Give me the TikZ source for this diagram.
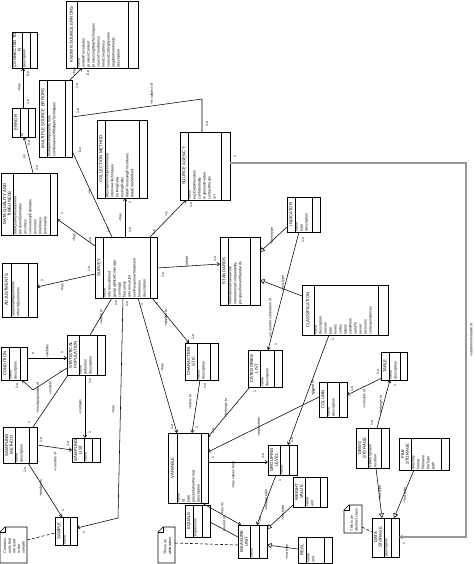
\documentclass[tikz,border=0pt]{standalone}
\usepackage{fontspec}
\setmainfont{Liberation Sans}
\usetikzlibrary{calc,arrows.meta}
\tikzset{
 clsbox/.style={draw, line width=0.65pt, inner sep=0pt, outer sep=0pt, anchor=north west},
 ttl/.style={rotate=90, font=\fontsize{4.3}{4.8}\selectfont, align=center, inner sep=0pt},
 attr/.style={rotate=90, font=\fontsize{3.6}{5}\selectfont, align=left, inner sep=0.6pt, anchor=north west},
 lbl/.style={rotate=90, font=\fontsize{3.5}{4}\selectfont, inner sep=0.3pt},
 notetxt/.style={rotate=90, font=\fontsize{3.6}{4.6}\selectfont, align=left, inner sep=0pt},
 assoc/.style={line width=0.55pt},
 nav/.style={assoc, -{Straight Barb[length=2.5pt,width=3.5pt]}},
 gen/.style={assoc, -{Triangle[open,length=4.5pt,width=5pt]}},
 notelink/.style={line width=0.55pt, dash pattern=on 3pt off 2pt},
}
\newcommand\umlcls[9]{%
 \node[clsbox, minimum width={(#4-#2)*1pt}, minimum height={(#5-#3)*1pt}] (#1) at (#2,#3) {};
 \draw[line width=0.5pt] ($(#1.north west)+(#6,0)$) -- ($(#1.south west)+(#6,0)$);
 \draw[line width=0.5pt] ($(#1.north east)+(-#7,0)$) -- ($(#1.south east)+(-#7,0)$);
 \node[ttl] (#1-t) at ($(#1.west)+({#6/2},0)$) {#8};
 \node[attr] (#1-a) at ($(#1.south west)+(#6,0)$) {#9};
}
\newcommand\umlnote[6]{%
 \node[inner sep=0pt, outer sep=0pt, anchor=north west, minimum width={(#4-#2)*1pt}, minimum height={(#5-#3)*1pt}] (#1) at (#2,#3) {};
 \draw[line width=0.55pt] ($(#1.north west)+(0,5)$) -- ($(#1.north west)+(5,0)$) -- (#1.north east) -- (#1.south east) -- (#1.south west) -- cycle;
 \draw[line width=0.45pt] ($(#1.north west)+(0,5)$) -- ($(#1.north west)+(5,5)$) -- ($(#1.north west)+(5,0)$);
 \node[notetxt] (#1-t) at ($(#1.center)+(1,1)$) {#6};
}
\begin{document}
\begin{tikzpicture}[x=1pt,y=-1pt]
\fill[white] (0,0) rectangle (474,564);
\useasboundingbox (0,0) rectangle (474,564);

% classes
\umlcls{kse}{66}{1}{138}{68}{11}{10}{KNOWN SOURCE ERRORS}{name\\unitedProcedures\\processContent\\processingStepTechniques\\sourceConsistency\\timeConsistency\\sourceCodingSystem\\eligibleFormFields\\description}
\umlcls{conn}{12}{32}{37}{68}{10}{7}{CONNECTED TO\\N}{description}
\umlcls{err}{12}{108}{35}{137}{8}{7}{ERROR}{N}
\umlcls{mse}{39}{80}{72}{157}{8}{7}{MULTIPLE SOURCE ERRORS}{multipleComponentErrors\\combinationOfMultipleTechniques}
\umlcls{coll}{97}{120}{147}{198}{8}{8}{COLLECTION METHOD}{descriptionOfQuestionnaire\\interviewTechniques\\trainingData\\testingRules\\dataProcessingProcedures\\dataEntryMethod}
\umlcls{sa}{180}{132}{230}{200}{8}{9}{SOURCE AGENCY}{name\\keyDataProviders\\confidentiality\\responseBurden\\contactPerson\\url}
\umlcls{dq}{1}{173}{57}{235}{12}{7}{DATA QUALITY AND\\TIMELINESS}{dataQualityAssessment\\precisionEstimates\\accuracy\\consistencyEstimates\\revisions\\timeliness\\punctuality}
\umlcls{adj}{2}{263}{37}{317}{9}{9}{ADJUSTMENTS}{seasonalAdjustments\\otherAdjustments}
\umlcls{survey}{95}{237}{157}{298}{8}{7}{SURVEY}{name\\referencePeriod\\geographicalCoverage\\coverage\\frequency\\referenceUnit\\nonResponseTreatment\\timeliness\\description}
\umlcls{std}{220}{237}{260}{305}{8}{10}{STANDARDS}{internationalFramework\\internationalComparability\\progressTowardStandards}
\umlcls{ind}{287}{197}{320}{232}{8}{8}{INDICATOR}{name\\type\\description}
\umlcls{cls}{302}{285}{388}{335}{12}{10}{CLASSIFICATION}{name\\description\\version\\type\\levels\\codes\\labels\\validFrom\\validTo\\owner\\revisions\\correspondences}
\umlcls{char}{185}{343}{218}{380}{12}{8}{CHARACTERI\\STIC}{name\\description}
\umlcls{catl}{248}{350}{282}{387}{12}{8}{CATEGORIES\\LIST}{value\\description}
\umlcls{column}{319}{382}{347}{417}{8}{8}{COLUMN}{name\\description}
\umlcls{table}{381}{352}{407}{380}{8}{7}{TABLE}{name\\description}
\umlcls{stp}{67}{335}{105}{375}{12}{8}{STATISTICAL\\POPULATION}{name\\definition\\description}
\umlcls{cond}{1}{347}{27}{380}{8}{7}{CONDITION}{name\\description}
\umlcls{smeth}{3}{427}{37}{463}{12}{8}{SAMPLING\\METHOD}{name\\description}
\umlcls{slist}{72}{438}{100}{462}{12}{8}{SAMPLING\\LIST}{name}
\umlcls{sample}{55}{517}{77}{545}{8}{7}{SAMPLE}{name}
\umlcls{var}{168}{433}{208}{503}{9}{7}{VARIABLE}{name\\id\\type\\presentationFormat\\description}
\umlcls{grp}{268}{445}{297}{475}{12}{8}{GROUPING\\LEVEL}{name}
\umlcls{mu}{238}{525}{267}{558}{12}{8}{MEASURE\\UNIT}{name}
\umlcls{eq}{185}{505}{210}{537}{8}{8}{EQUALS}{expression}
\umlcls{val}{293}{477}{327}{507}{12}{7}{WEIGHT\\VALUE}{value\\unit}
\umlcls{real}{298}{537}{332}{563}{8}{8}{REAL}{value\\unit}
\umlcls{dbms}{356}{428}{389}{468}{12}{8}{DBMS\\STORAGE}{DBMSSystem\\location}
\umlcls{file}{399}{438}{449}{470}{12}{8}{FILE\\STORAGE}{directory\\format\\filename\\fileType\\path}
\umlcls{ds}{372}{518}{399}{557}{12}{8}{DATA\\STORAGE}{description}

% notes
\umlnote{note1}{0}{527}{27}{563}{Contains\\units that\\are used\\in the\\sample}
\umlnote{note2}{158}{527}{175}{563}{This is an\\abstraction}
\umlnote{note3}{344}{505}{362}{533}{This is an\\abstract class}

% connectors
\draw[nav] ($(err.north west)+(11,0)$) -- ($(conn.north west)+(11,36)$);
\draw[nav] ($(dq.north west)+(32,0)$) -- ($(err.north west)+(12,29)$);
\draw[nav] ($(mse.north west)+(31,0)$) -- ($(kse.north west)+(16,67)$);
\draw[assoc] ($(mse.north west)+(33,37)$) -- ($(sa.north west)+(22,-33)$) -- ($(sa.north west)+(22,0)$);
\draw[assoc] ($(mse.north west)+(34,73)$) -- ($(survey.north west)+(17,0)$);
\draw[nav] ($(survey.north west)+(0,9)$) -- ($(dq.north west)+(56,46)$);
\draw[nav] ($(survey.north west)+(30,0)$) -- ($(coll.north west)+(28,78)$);
\draw[nav] ($(survey.north west)+(55,0)$) -- ($(sa.north west)+(6,68)$);
\coordinate (gc1) at (466,163);
\coordinate (gc2) at (466,537);
\draw[nav, draw=black!40, line width=1.1pt] ($(sa.north west)+(50,31)$) -- (gc1) -- (gc2) -- ($(ds.north west)+(27,19)$);
\draw[nav] ($(survey.north west)+(0,37)$) -- ($(adj.north west)+(35,24)$);
\draw[nav] ($(survey.north west)+(62,31)$) -- ($(std.north west)+(0,27)$);
\draw[gen] ($(ind.north west)+(1,29)$) -- ($(std.north west)+(40,15)$);
\draw[gen] ($(cls.north west)+(0,11)$) -- ($(std.north west)+(40,43)$);
\draw[nav] ($(ind.north west)+(12,35)$) -- ($(catl.north west)+(20,0)$);
\draw[nav] ($(survey.north west)+(57,61)$) -- ($(char.north west)+(4,0)$);
\draw[nav] ($(char.north west)+(15,37)$) -- ($(var.north west)+(24,0)$);
\draw[nav] ($(survey.north west)+(43,61)$) -- ($(var.north west)+(9,0)$);
\draw[nav] ($(catl.north west)+(2,37)$) -- ($(var.north west)+(40,4)$);
\draw[nav] ($(cls.north west)+(27,50)$) -- ($(grp.north west)+(20,0)$);
\draw[nav] ($(column.north west)+(0,15)$) -- ($(var.north west)+(40,19)$);
\draw[nav] ($(var.north west)+(40,29)$) -- ($(grp.north west)+(0,17)$);
\draw[nav] ($(grp.north west)+(8,30)$) -- ($(mu.north west)+(19,0)$);
\draw[gen] ($(val.north west)+(0,28)$) -- ($(mu.north west)+(29,4)$);
\draw[gen] ($(real.north west)+(0,12)$) -- ($(mu.north west)+(29,20)$);
\draw[nav] ($(var.north west)+(34,70)$) -- ($(mu.north west)+(3,0)$);
\draw[assoc] ($(eq.north west)+(25,17)$) -- ($(mu.north west)+(0,12)$);
\draw[notelink] ($(note2.north west)+(17,16)$) -- ($(mu.north west)+(0,20)$);
\draw[assoc] ($(stp.north west)+(23,0)$) -- ($(survey.north west)+(17,61)$);
\draw[nav] ($(cond.north west)+(26,11)$) -- ($(stp.north west)+(0,23)$);
\coordinate (sc1) at (33,390);
\draw[nav] ($(stp.north west)+(0,33)$) -- (sc1) -- ($(cond.north west)+(21,33)$);
\draw[assoc] ($(smeth.north west)+(30,0)$) -- ($(stp.north west)+(1,40)$);
\draw[nav] ($(stp.north west)+(18,40)$) -- ($(slist.north west)+(13,0)$);
\draw[nav] ($(smeth.north west)+(34,18)$) -- ($(slist.north west)+(0,12)$);
\draw[nav] ($(smeth.north west)+(25,36)$) -- ($(sample.north west)+(7,0)$);
\coordinate (sc2) at (118,518);
\draw[nav] ($(survey.north west)+(28,61)$) -- (sc2) -- ($(sample.north west)+(22,11)$);
\draw[notelink] ($(note1.north west)+(27,13)$) -- ($(sample.north west)+(0,16)$);
\draw[nav] ($(table.north west)+(1,26)$) -- ($(column.north west)+(28,13)$);
\draw[nav] ($(dbms.north west)+(21,0)$) -- ($(table.north west)+(9,28)$);
\draw[gen] ($(dbms.north west)+(20,40)$) -- ($(ds.north west)+(10,0)$);
\draw[gen] ($(file.north west)+(15,32)$) -- ($(ds.north west)+(22,0)$);
\draw[notelink] ($(note3.north west)+(18,22)$) -- ($(ds.north west)+(0,14)$);

% labels
\node[lbl] (L1) at (19,88) {+has};
\node[lbl] (L2) at (28,102) {1..n};
\node[lbl] (L3) at (28,74) {0..n};
\node[lbl] (L4) at (24,157) {+is};
\node[lbl] (L5) at (37,168) {1..n};
\node[lbl] (L6) at (29,143) {0..n};
\node[lbl] (L7) at (74,72) {+has};
\node[lbl] (L8) at (88,73) {0..n};
\node[lbl] (L9) at (77,86) {1..n};
\node[lbl] (L10) at (78,111) {1..n};
\node[lbl] (L11) at (152,94) {+is subject of};
\node[lbl] (L12) at (207,124) {1..n};
\node[lbl] (L13) at (80,150) {0..n};
\node[lbl] (L14) at (89,192) {+is};
\node[lbl] (L15) at (108,230) {1..n};
\node[lbl] (L16) at (62,214) {1};
\node[lbl] (L17) at (74,238) {+has};
\node[lbl] (L18) at (90,240) {1..n};
\node[lbl] (L19) at (120,218) {+has};
\node[lbl] (L20) at (130,230) {1..n};
\node[lbl] (L21) at (130,203) {1};
\node[lbl] (L22) at (166,214) {+is};
\node[lbl] (L23) at (191,205) {1..n};
\node[lbl] (L24) at (154,232) {1..n};
\node[lbl] (L25) at (235,157) {1};
\node[lbl] (L26) at (404,544) {1};
\node[lbl] (L27) at (471,340) {+statements made at};
\node[lbl] (L28) at (42,281) {1};
\node[lbl] (L29) at (62,288) {+has};
\node[lbl] (L30) at (89,269) {1..n};
\node[lbl] (L31) at (187,262) {+adopt};
\node[lbl] (L32) at (163,275) {1..n};
\node[lbl] (L33) at (215,259) {1..n};
\node[lbl] (L34) at (272,236) {+uses type};
\node[lbl] (L35) at (283,283) {+is a type};
\node[lbl] (L36) at (303,240) {1..n};
\node[lbl] (L37) at (270,318) {+is used in calculation of};
\node[lbl] (L38) at (276,345) {1};
\node[lbl] (L39) at (166,318) {+applies to};
\node[lbl] (L40) at (193,337) {1..n};
\node[lbl] (L41) at (157,304) {1};
\node[lbl] (L42) at (190,402) {+refers to};
\node[lbl] (L43) at (205,386) {1..n};
\node[lbl] (L44) at (197,428) {1};
\node[lbl] (L45) at (162,368) {+has};
\node[lbl] (L46) at (142,305) {1};
\node[lbl] (L47) at (172,427) {1..n};
\node[lbl] (L48) at (226,408) {+belongs to};
\node[lbl] (L49) at (255,392) {1};
\node[lbl] (L50) at (213,431) {1..n};
\node[lbl] (L51) at (313,388) {+is part of};
\node[lbl] (L52) at (333,340) {1};
\node[lbl] (L53) at (292,440) {1..n};
\node[lbl] (L54) at (259,427) {+represents};
\node[lbl] (L55) at (314,392) {1..n};
\node[lbl] (L56) at (233,475) {+has values from};
\node[lbl] (L57) at (263,456) {1..n};
\node[lbl] (L58) at (213,458) {1};
\node[lbl] (L59) at (266,500) {+measured in};
\node[lbl] (L60) at (280,481) {1};
\node[lbl] (L61) at (260,519) {1..n};
\node[lbl] (L62) at (283,513) {+is a type};
\node[lbl] (L63) at (287,552) {+is a type};
\node[lbl] (L64) at (222,509) {+has its};
\node[lbl] (L65) at (224,524) {+is unit of};
\node[lbl] (L66) at (101,317) {+refers to};
\node[lbl] (L67) at (93,331) {1};
\node[lbl] (L68) at (116,303) {1..n};
\node[lbl] (L69) at (47,351) {+defines};
\node[lbl] (L70) at (62,353) {1};
\node[lbl] (L71) at (33,354) {n};
\node[lbl] (L72) at (38,398) {+is subpopulation of};
\node[lbl] (L73) at (17,386) {1..n};
\node[lbl] (L74) at (61,372) {1};
\node[lbl] (L75) at (50,388) {+selects};
\node[lbl] (L76) at (29,423) {1};
\node[lbl] (L77) at (80,407) {+contains};
\node[lbl] (L78) at (90,381) {1..n};
\node[lbl] (L79) at (90,433) {1};
\node[lbl] (L80) at (55,462) {+consists of};
\node[lbl] (L81) at (41,440) {1..n};
\node[lbl] (L82) at (68,444) {1..n};
\node[lbl] (L83) at (41,488) {+produces};
\node[lbl] (L84) at (25,470) {1..n};
\node[lbl] (L85) at (63,511) {1};
\node[lbl] (L86) at (113,410) {+has};
\node[lbl] (L87) at (127,304) {1..n};
\node[lbl] (L88) at (84,533) {1};
\node[lbl] (L89) at (364,399) {+consists of};
\node[lbl] (L90) at (352,389) {1..n};
\node[lbl] (L91) at (378,372) {1..n};
\node[lbl] (L92) at (381,405) {+belongs to};
\node[lbl] (L93) at (372,423) {1..n};
\node[lbl] (L94) at (395,386) {1};
\node[lbl] (L95) at (380,493) {+is a type};
\node[lbl] (L96) at (405,495) {+is a type};
\end{tikzpicture}
\end{document}
